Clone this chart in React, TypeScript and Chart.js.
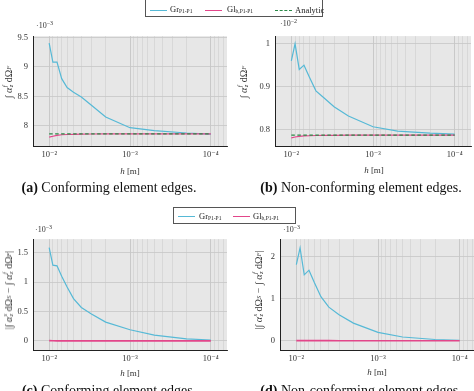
import React, { useEffect, useRef } from 'react';
import { Chart, registerables } from 'chart.js';
Chart.register(...registerables);

// mesh sizes h [m]
const H = [1e-2, 9e-3, 8e-3, 7e-3, 6e-3, 5e-3, 4e-3, 3e-3, 2e-3, 1e-3, 5e-4, 2e-4, 1e-4];

// (a) conforming, integral of fluid alpha (x 1e-3)
const GR_A = [9.40, 9.08, 9.08, 8.80, 8.65, 8.57, 8.49, 8.35, 8.15, 7.97, 7.92, 7.88, 7.86];
const GL_A = [7.81, 7.825, 7.84, 7.85, 7.855, 7.858, 7.861, 7.863, 7.864, 7.865, 7.865, 7.865, 7.865];
const AN_A = [7.865, 7.865, 7.865, 7.865, 7.865, 7.865, 7.865, 7.865, 7.865, 7.865, 7.865, 7.865, 7.865];

// (b) non-conforming (x 1e-2)
const GR_B = [0.96, 1.0, 0.94, 0.95, 0.922, 0.89, 0.874, 0.853, 0.831, 0.806, 0.796, 0.791, 0.789];
const GL_B = [0.780, 0.782, 0.7835, 0.7845, 0.785, 0.7855, 0.786, 0.786, 0.7862, 0.7864, 0.7865, 0.7865, 0.7865];
const AN_B = [0.7865, 0.7865, 0.7865, 0.7865, 0.7865, 0.7865, 0.7865, 0.7865, 0.7865, 0.7865, 0.7865, 0.7865, 0.7865];

// (c) conforming, difference (x 1e-3)
const GR_C = [1.59, 1.29, 1.28, 1.10, 0.92, 0.72, 0.57, 0.46, 0.32, 0.19, 0.10, 0.035, 0.015];
const GL_C = [0.004, 0.003, 0.002, 0.002, 0.001, 0.001, 0.001, 0, 0, 0, 0, 0, 0];

// (d) non-conforming, difference (x 1e-3)
const GR_D = [1.81, 2.21, 1.57, 1.68, 1.38, 1.05, 0.80, 0.62, 0.42, 0.20, 0.09, 0.03, 0.012];
const GL_D = [0.005, 0.004, 0.003, 0.002, 0.002, 0.001, 0.001, 0, 0, 0, 0, 0, 0];

// axis ticks
const X_MULT = [1, 2, 3, 4, 5, 6, 7, 8, 9];
const X_DECADES = [-5, -4, -3, -2];
const X_LABELS: Record<string, string> = { '-2': '10\u207B\u00B2', '-3': '10\u207B\u00B3', '-4': '10\u207B\u2074' };
const YT_A = [8, 8.5, 9, 9.5];
const YT_B = [0.8, 0.9, 1];
const YT_C = [0, 0.5, 1, 1.5];
const YT_D = [0, 1, 2];

const C_GR = '#56b9d6';
const C_GL = '#e2468a';
const C_AN = '#2a8a47';
const SERIF = '"Liberation Serif", "DejaVu Serif", serif';

const X_MIN = Math.pow(10, -4.2);
const X_MAX = Math.pow(10, -1.8);

const isDecade = (v: number) => Math.abs(Math.log10(v) - Math.round(Math.log10(v))) < 1e-6;

const bgPlugin = {
  id: 'plotBg',
  beforeDraw(chart: any) {
    const { ctx, chartArea: a } = chart;
    ctx.save();
    ctx.fillStyle = '#e7e7e7';
    ctx.fillRect(a.left, a.top, a.right - a.left, a.bottom - a.top);
    ctx.restore();
  },
};

type PanelProps = {
  L: number; T: number; R: number; B: number;
  yMin: number; yMax: number; yTicks: number[];
  datasets: any[];
};

function Panel({ L, T, R, B, yMin, yMax, yTicks, datasets }: PanelProps) {
  const ref = useRef<HTMLCanvasElement>(null);
  const cx = L - 34, cy = T - 6;
  const cw = R - cx + 4, ch = B - cy + 24;
  useEffect(() => {
    if (!ref.current) return;
    const xTicks: number[] = [];
    X_DECADES.forEach((d) => X_MULT.forEach((m) => {
      const v = m * Math.pow(10, d);
      if (v > X_MIN * 1.001 && v < X_MAX * 0.999) xTicks.push(v);
    }));
    const chart = new Chart(ref.current, {
      type: 'line',
      data: {
        datasets: datasets.map((d) => ({
          label: d.label,
          data: H.map((h, i) => ({ x: h, y: d.values[i] })),
          borderColor: d.color,
          borderWidth: d.width ?? 1.2,
          borderDash: d.dash ?? [],
          pointRadius: 0,
          tension: 0,
          fill: false,
          order: d.order,
        })),
      },
      options: {
        animation: false,
        responsive: false,
        events: [],
        layout: { autoPadding: false, padding: { top: 6, right: 4, left: 0, bottom: 0 } },
        plugins: { legend: { display: false }, tooltip: { enabled: false } },
        scales: {
          x: {
            type: 'logarithmic',
            reverse: true,
            min: X_MIN,
            max: X_MAX,
            afterBuildTicks: (s: any) => { s.ticks = xTicks.map((v) => ({ value: v, major: isDecade(v) })); },
            afterFit: (s: any) => { s.height = 24; },
            ticks: {
              autoSkip: false,
              maxRotation: 0,
              minRotation: 0,
              padding: 4,
              color: '#333',
              font: { family: SERIF, size: 8.5 },
              callback: (v: any) => (isDecade(Number(v)) ? X_LABELS[String(Math.round(Math.log10(Number(v))))] ?? '' : ''),
            },
            grid: {
              drawTicks: false,
              color: (c: any) => (c.tick && isDecade(c.tick.value) ? '#c2c2c2' : '#d4d4d4'),
              lineWidth: 0.8,
            },
            border: { display: true, color: '#222', width: 1 },
          },
          y: {
            type: 'linear',
            min: yMin,
            max: yMax,
            afterBuildTicks: (s: any) => { s.ticks = yTicks.map((v) => ({ value: v })); },
            afterFit: (s: any) => { s.width = 34; },
            ticks: {
              padding: 5,
              color: '#333',
              font: { family: SERIF, size: 8.5 },
              callback: (v: any) => String(v),
            },
            grid: { drawTicks: false, color: '#c6c6c6', lineWidth: 0.8 },
            border: { display: true, color: '#222', width: 1 },
          },
        },
      },
      plugins: [bgPlugin],
    } as any);
    return () => chart.destroy();
  }, []);
  return (
    <canvas
      ref={ref}
      width={cw}
      height={ch}
      style={{ position: 'absolute', left: cx, top: cy, width: cw, height: ch }}
    />
  );
}

const abs = (x: number, y: number, extra: any = {}) => ({ position: 'absolute' as const, left: x, top: y, ...extra });

function Sci({ x, y, exp }: { x: number; y: number; exp: string }) {
  return (
    <div style={abs(x, y, { fontFamily: SERIF, fontSize: 8, color: '#333', lineHeight: '8px', whiteSpace: 'nowrap' })}>
      ·10<sup style={{ fontSize: 6, verticalAlign: 3 }}>{exp}</sup>
    </div>
  );
}

function XTitle({ x, y }: { x: number; y: number }) {
  return (
    <div style={abs(x, y, { transform: 'translate(-50%,-50%)', fontFamily: SERIF, fontSize: 9, color: '#333', whiteSpace: 'nowrap' })}>
      <i>h</i> [m]
    </div>
  );
}

function Alpha({ s }: { s: string }) {
  return (
    <span style={{ display: 'inline-flex', alignItems: 'center' }}>
      <i>α</i>
      <span style={{ display: 'inline-flex', flexDirection: 'column', fontSize: 6.5, lineHeight: '6px', marginLeft: 0.5 }}>
        <i>{s}</i>
        <i>z</i>
      </span>
    </span>
  );
}

function YTitle({ x, y, diff }: { x: number; y: number; diff?: boolean }) {
  const sub = (t: string) => <sub style={{ fontSize: 6.5, verticalAlign: -3 }}><i>{t}</i></sub>;
  return (
    <div style={abs(x, y, { transform: 'translate(-50%,-50%) rotate(-90deg)', fontFamily: SERIF, fontSize: 10, color: '#333', whiteSpace: 'nowrap', display: 'flex', alignItems: 'center' })}>
      {diff ? (
        <>
          <span>|∫&nbsp;</span><Alpha s="s" /><span>&nbsp;dΩ</span>{sub('S')}<span>&nbsp;−&nbsp;∫&nbsp;</span><Alpha s="f" /><span>&nbsp;dΩ</span>{sub('F')}<span>|</span>
        </>
      ) : (
        <>
          <span>∫&nbsp;</span><Alpha s="f" /><span>&nbsp;dΩ</span>{sub('F')}
        </>
      )}
    </div>
  );
}

function Caption({ x, y, tag, text }: { x: number; y: number; tag: string; text: string }) {
  return (
    <div style={abs(x, y, { transform: 'translateX(-50%)', fontFamily: SERIF, fontSize: 14, lineHeight: '14px', color: '#111', whiteSpace: 'nowrap' })}>
      <b>{tag}</b> {text}
    </div>
  );
}

function LegLine({ x, y, color, dash }: { x: number; y: number; color: string; dash?: boolean }) {
  return <div style={abs(x, y, { width: 17, height: 0, borderTop: `1.3px ${dash ? 'dashed' : 'solid'} ${color}` })} />;
}

function LegText({ x, y, main, sub }: { x: number; y: number; main: string; sub?: string }) {
  return (
    <div style={abs(x, y, { transform: 'translateY(-50%)', fontFamily: SERIF, fontSize: 8.5, color: '#222', whiteSpace: 'nowrap', lineHeight: '10px' })}>
      {main}
      {sub && <sub style={{ fontSize: 5.5, verticalAlign: -1.5 }}>{sub}</sub>}
    </div>
  );
}

function Legend1() {
  return (
    <div style={abs(145, -1, { width: 176, height: 16, border: '1px solid #555', background: '#fff' })}>
      <LegLine x={4} y={9.5} color={C_GR} />
      <LegText x={24} y={10} main="Gr" sub="P1-P1" />
      <LegLine x={59} y={9.5} color={C_GL} />
      <LegText x={81} y={10} main="Gl" sub="b,P1-P1" />
      <LegLine x={129} y={9.5} color={C_AN} dash />
      <LegText x={149} y={10} main="Analytic" />
    </div>
  );
}

function Legend2() {
  return (
    <div style={abs(173, 207, { width: 121, height: 15, border: '1px solid #555', background: '#fff' })}>
      <LegLine x={4} y={8} color={C_GR} />
      <LegText x={25} y={8.5} main="Gr" sub="P1-P1" />
      <LegLine x={59} y={8} color={C_GL} />
      <LegText x={79} y={8.5} main="Gl" sub="b,P1-P1" />
    </div>
  );
}

export default function App() {
  const dsABC = (gr: number[], gl: number[], an?: number[]) => {
    const d: any[] = [
      { label: 'Gr P1-P1', values: gr, color: C_GR, order: 3 },
      { label: 'Gl b,P1-P1', values: gl, color: C_GL, order: 2, width: an ? 1.2 : 1.7 },
    ];
    if (an) d.push({ label: 'Analytic', values: an, color: C_AN, order: 1, dash: [3.5, 2.5] });
    return d;
  };
  return (
    <div style={{ position: 'fixed', left: 0, top: 0, width: 474, height: 391, overflow: 'hidden', background: '#fff' }}>
      <Panel L={33} T={32} R={227} B={146} yMin={7.66} yMax={9.52} yTicks={YT_A} datasets={dsABC(GR_A, GL_A, AN_A)} />
      <Panel L={275} T={32} R={471} B={146} yMin={0.761} yMax={1.018} yTicks={YT_B} datasets={dsABC(GR_B, GL_B, AN_B)} />
      <Panel L={33} T={235} R={227} B={350} yMin={-0.155} yMax={1.735} yTicks={YT_C} datasets={dsABC(GR_C, GL_C)} />
      <Panel L={280} T={235} R={476} B={350} yMin={-0.22} yMax={2.42} yTicks={YT_D} datasets={dsABC(GR_D, GL_D)} />

      <Sci x={36} y={19} exp="−3" />
      <Sci x={280} y={17} exp="−2" />
      <Sci x={35} y={223} exp="−3" />
      <Sci x={283} y={223} exp="−3" />

      <XTitle x={130} y={170.5} />
      <XTitle x={374} y={170} />
      <XTitle x={130} y={373} />
      <XTitle x={377} y={372} />

      <YTitle x={8} y={82} />
      <YTitle x={243} y={82} />
      <YTitle x={8} y={290} diff />
      <YTitle x={258} y={290} diff />

      <Caption x={109} y={181} tag="(a)" text="Conforming element edges." />
      <Caption x={361} y={181} tag="(b)" text="Non-conforming element edges." />
      <Caption x={109} y={384} tag="(c)" text="Conforming element edges." />
      <Caption x={361} y={384} tag="(d)" text="Non-conforming element edges." />

      <Legend1 />
      <Legend2 />
    </div>
  );
}
